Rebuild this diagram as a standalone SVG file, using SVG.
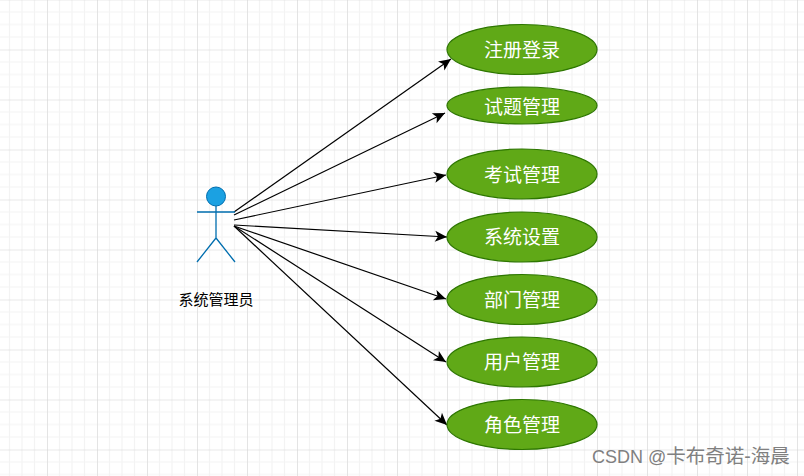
<svg xmlns="http://www.w3.org/2000/svg" width="804" height="476" viewBox="0 0 804 476">
<style>
.uc{fill:#60a917;stroke:#2d7600;stroke-width:1.2}
.ut{font-family:"Noto Sans CJK SC","Liberation Sans",sans-serif;font-size:19px;fill:#fff;text-anchor:middle}
.al{stroke:#006eaf;stroke-width:1.3;fill:none}
.cn{stroke:#000;stroke-width:1.2;fill:none;marker-end:url(#a)}
</style>
<defs>
<marker id="a" markerUnits="userSpaceOnUse" markerWidth="14" markerHeight="12" refX="12" refY="5.5" orient="auto" overflow="visible"><path d="M0 0L12 5.5L0 11L3 5.5Z" fill="#000"/></marker>
<pattern id="g" x="-3" y="-0.5" width="50" height="50" patternUnits="userSpaceOnUse">
<path d="M0 0H50M0 12.5H50M0 25H50M0 37.5H50M0 0V50M12.5 0V50M25 0V50M37.5 0V50" stroke="#f3f3f3" stroke-width="1.2" fill="none"/>
<path d="M0 0H50M0 0V50" stroke="#d6d6d6" stroke-width="1.2" fill="none"/>
</pattern>
</defs>
<rect width="804" height="476" fill="#fff"/>
<rect width="804" height="476" fill="url(#g)"/>
<g id="connectors">
<path class="cn" d="M234 212L451 59"/>
<path class="cn" d="M234 215L445 113"/>
<path class="cn" d="M234 220L446 175"/>
<path class="cn" d="M234 225L447 237"/>
<path class="cn" d="M234 226L446 299"/>
<path class="cn" d="M234 226L446 362"/>
<path class="cn" d="M234 226L447 425"/>
</g>
<g id="actor">
<circle cx="216" cy="196.5" r="9.5" fill="#1ba1e2" stroke="#006eaf" stroke-width="1"/>
<path class="al" d="M216 206V238M197 212H235M216 238L197 262M216 238L235 262"/>
<text x="216" y="305" font-family="Noto Sans CJK SC,Liberation Sans,sans-serif" font-size="15" text-anchor="middle" fill="#000">系统管理员</text>
</g>
<g id="n1"><ellipse class="uc" cx="522" cy="49.5" rx="75" ry="25"/><text class="ut" x="522" y="57">注册登录</text></g>
<g id="n2"><ellipse class="uc" cx="522" cy="105.5" rx="75" ry="18.5"/><text class="ut" x="522" y="114">试题管理</text></g>
<g id="n3"><ellipse class="uc" cx="522" cy="174" rx="75" ry="25"/><text class="ut" x="522" y="182">考试管理</text></g>
<g id="n4"><ellipse class="uc" cx="522" cy="237" rx="75" ry="25"/><text class="ut" x="522" y="244">系统设置</text></g>
<g id="n5"><ellipse class="uc" cx="522" cy="299.5" rx="75" ry="25"/><text class="ut" x="522" y="307">部门管理</text></g>
<g id="n6"><ellipse class="uc" cx="522" cy="362" rx="75" ry="25"/><text class="ut" x="522" y="369">用户管理</text></g>
<g id="n7"><ellipse class="uc" cx="522" cy="424.5" rx="75" ry="25"/><text class="ut" x="522" y="432">角色管理</text></g>
<text x="592" y="463" font-family="Liberation Sans,Noto Sans CJK SC,sans-serif" font-size="18" fill="#808080">CSDN @<tspan font-size="19.5">卡布奇诺-海晨</tspan></text>
</svg>
